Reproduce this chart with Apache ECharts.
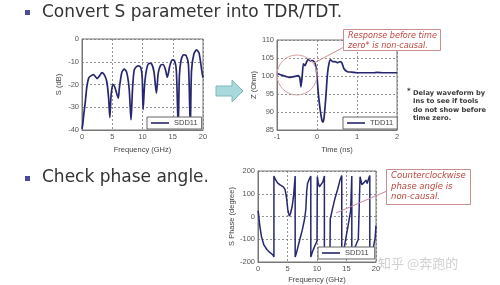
<!DOCTYPE html>
<html><head><meta charset="utf-8">
<script src="https://cdn.jsdelivr.net/npm/echarts@6/dist/echarts.min.js"></script>
<style>html,body{margin:0;padding:0;background:#fff}#c{width:500px;height:285px}</style>
</head><body><div id="c"></div>
<script>
// ---- SDD11 magnitude (dB) ----
const sddFreq = [0,0.1,0.3,0.55,0.8,1.1,1.4,1.9,2.2,2.5,2.9,3.3,3.7,4.1,4.4,4.6,4.8,5.1,5.4,5.8,6.0,6.2,6.6,7.0,7.4,7.8,8.1,8.35,8.6,8.9,9.3,9.7,9.95,10.1,10.35,10.7,11.1,11.5,11.9,12.3,12.6,13.0,13.4,13.8,14.1,14.5,14.9,15.3,15.6,15.9,16.1,16.4,16.8,17.2,17.6,17.9,18.1,18.5,18.95,19.35,19.8,20.0];
const sddDb   = [-39.5,-38,-33,-27.5,-21,-17.2,-16.3,-15.7,-16.5,-17.4,-16.2,-14.8,-15.8,-18.8,-26,-34.5,-25,-20,-21,-24.5,-26,-21,-14.5,-13.2,-14.8,-22,-35.5,-22,-14,-12.4,-11.8,-12.4,-17,-31,-20,-13,-10.7,-10.9,-14.5,-23.8,-15,-11.5,-11.2,-13.5,-16.8,-12,-9.2,-9.6,-14,-38.5,-16,-9,-7,-7.2,-11.5,-38.5,-14,-6.5,-4.8,-6.2,-14,-17];
// ---- TDD11 impedance (Ohm) ----
const tddTime = [-1.0,-0.84,-0.68,-0.55,-0.47,-0.43,-0.40,-0.37,-0.34,-0.30,-0.26,-0.22,-0.16,-0.11,-0.05,-0.01,0.03,0.075,0.12,0.145,0.175,0.22,0.26,0.30,0.34,0.39,0.45,0.52,0.575,0.62,0.675,0.76,0.87,1.0,1.25,1.41,1.5,1.66,2.0];
const tddOhm  = [100.7,100.1,99.6,99.9,100.1,99.5,97.0,100,103.4,102.9,103.9,104.7,104.2,104.3,103.6,101.2,95.6,91,87.8,87.2,88.3,94,100.3,103.5,104.5,104,104,103.7,104,103.7,102,101.2,101.1,100.9,100.9,100.9,101,100.9,100.9];
// ---- SDD11 phase (degree) ----
const phaseFreq = [0,0.1,0.3,0.6,1.0,1.5,2.0,2.5,2.7,2.7,2.9,3.3,3.8,4.3,4.6,4.85,5.05,5.3,5.5,5.8,6.05,6.3,6.3,6.5,7.0,7.5,7.9,8.1,8.25,8.4,8.7,8.95,8.95,9.3,9.7,10.0,10.05,10.2,10.4,10.7,11.0,11.25,11.25,11.6,12.0,12.2,12.25,12.6,13.0,13.5,13.9,14.2,14.2,14.6,15.0,15.4,15.7,15.9,15.9,16.2,16.6,17.0,17.25,17.3,17.6,18.0,18.3,18.5,18.8,18.95,18.95,19.3,19.6,19.85,20.0];
const phaseDeg  = [25,10,-40,-90,-125,-145,-158,-168,-178,178,165,148,138,130,118,80,30,2,12,45,95,178,-178,-162,-110,-60,-10,30,110,145,165,178,-178,-150,-125,-108,175,150,130,138,152,178,-178,-165,-150,-140,-10,30,75,120,160,180,-178,-140,-80,-20,25,178,-178,-148,-125,-100,-95,175,140,150,160,145,170,180,-178,-160,-130,-95,-40];
// ---- tick settings ----
const freqTicks = {min:0, max:20, interval:5};
const dbTicks = {min:-40, max:0, interval:10};
const timeTicks = {min:-1, max:2, interval:1};
const ohmTicks = {min:85, max:110, interval:5};
const degTicks = {min:-200, max:200, interval:100};

const zip = (a,b) => a.map((v,i)=>[v,b[i]]);
const LINE = '#27276f';
const FONT = 'DejaVu Sans';

function ax(grid, t, name, gap){
  return {
    type:'value', gridIndex:grid, min:t.min, max:t.max, interval:t.interval,
    name:name, nameLocation:'middle', nameGap:gap,
    nameTextStyle:{fontSize:7.5, color:'#444', fontFamily:'Arial'},
    axisLine:{show:true, onZero:false, lineStyle:{color:'#777', width:1}},
    axisTick:{show:false},
    axisLabel:{fontSize:7.5, color:'#555', margin:3, fontFamily:'Arial'},
    splitLine:{show:true, lineStyle:{color:'#777', type:[2,2], width:0.8}}
  };
}
function leg(grid, name, left, top){
  return {
    data:[{name:name, icon:'rect'}], left:left, top:top, orient:'horizontal',
    itemWidth:18, itemHeight:1.6, itemGap:4,
    backgroundColor:'#fff', borderColor:'#666', borderWidth:1, borderRadius:0,
    padding:[2,4,2,4],
    textStyle:{fontSize:7.5, color:'#444', fontFamily:'Arial'}
  };
}

const chart = echarts.init(document.getElementById('c'), null, {renderer:'canvas'});
chart.setOption({
  backgroundColor:'#fff',
  animation:false,
  grid:[
    {left:82, top:39, width:121, height:91, show:true, borderColor:'#777', borderWidth:1},
    {left:277, top:40, width:120, height:90, show:true, borderColor:'#777', borderWidth:1},
    {left:258, top:171, width:118, height:91, show:true, borderColor:'#777', borderWidth:1}
  ],
  xAxis:[ ax(0,freqTicks,'Frequency (GHz)',16), ax(1,timeTicks,'Time (ns)',16), ax(2,freqTicks,'Frequency (GHz)',14) ],
  yAxis:[ ax(0,dbTicks,'S (dB)',19), ax(1,ohmTicks,'Z (Ohm)',18), ax(2,degTicks,'S Phase (degree)',21) ],
  legend:[ leg(0,'SDD11',147,117), leg(1,'TDD11',343,117), leg(2,'SDD11 ',318,247) ],
  series:[
    {name:'SDD11', type:'line', xAxisIndex:0, yAxisIndex:0, data:zip(sddFreq,sddDb), showSymbol:false, symbol:'none', smooth:0.25, lineStyle:{color:LINE,width:1.7}, itemStyle:{color:LINE}},
    {name:'TDD11', type:'line', xAxisIndex:1, yAxisIndex:1, data:zip(tddTime,tddOhm), showSymbol:false, symbol:'none', smooth:0.2, lineStyle:{color:LINE,width:1.7}, itemStyle:{color:LINE}},
    {name:'SDD11 ', type:'line', xAxisIndex:2, yAxisIndex:2, data:zip(phaseFreq,phaseDeg), showSymbol:false, symbol:'none', lineStyle:{color:LINE,width:1.5}, itemStyle:{color:LINE}}
  ],
  graphic:[
    {type:'rect', shape:{x:25,y:10,width:5,height:5}, style:{fill:'#4b4b96'}},
    {type:'text', left:42, top:4, style:{text:'Convert S parameter into TDR/TDT.', fontFamily:FONT, fontSize:17, fill:'#333'}},
    {type:'rect', shape:{x:25,y:176,width:5,height:5}, style:{fill:'#4b4b96'}},
    {type:'text', left:42, top:169, style:{text:'Check phase angle.', fontFamily:FONT, fontSize:17, fill:'#333'}},
    // arrow
    {type:'polygon', shape:{points:[[216,86],[232,86],[232,80],[243,91],[232,102],[232,96],[216,96]]}, style:{fill:'#a9d9dc', stroke:'#7fb8bd', lineWidth:1}},
    // circle
    {type:'circle', shape:{cx:297,cy:75,r:20}, style:{fill:'none', stroke:'#d6a2a2', lineWidth:1}, z:10},
    {type:'line', shape:{x1:314,y1:63,x2:344,y2:47}, style:{stroke:'#d08a8a', lineWidth:1}, z:10},
    {type:'rect', shape:{x:343.5,y:29.5,width:97,height:21}, style:{fill:'#fff', stroke:'#c98e8e', lineWidth:1}, z:10},
    {type:'text', left:348, top:30.5, z:11, style:{text:'Response before time\nzero* is non-causal.', fontFamily:FONT, fontSize:8.1, fontStyle:'italic', fill:'#c0463f', lineHeight:10}},
    // note
    {type:'text', left:407, top:88, style:{text:'*', fontFamily:FONT, fontSize:7, fontWeight:'bold', fill:'#333'}},
    {type:'text', left:413, top:89, style:{text:'Delay waveform by\nIns to see if tools\ndo not show before\ntime zero.', fontFamily:FONT, fontSize:6.7, fontWeight:'bold', fill:'#3a3a3a', lineHeight:8.5}},
    // phase annotation
    {type:'line', shape:{x1:387,y1:191,x2:336,y2:213}, style:{stroke:'#c98aa0', lineWidth:1}, z:10},
    {type:'rect', shape:{x:386.5,y:169.5,width:84,height:35}, style:{fill:'#fff', stroke:'#c98e8e', lineWidth:1}, z:10},
    {type:'text', left:391, top:171, z:11, style:{text:'Counterclockwise\nphase angle is\nnon-causal.', fontFamily:FONT, fontSize:8.5, fontStyle:'italic', fill:'#c0463f', lineHeight:10.5}},
    // watermark
    {type:'text', left:378, top:257, z:20, style:{text:'知乎 @奔跑的', fontFamily:'Noto Sans CJK SC', fontSize:13, fill:'rgba(150,150,150,0.45)'}}
  ]
});
</script></body></html>
